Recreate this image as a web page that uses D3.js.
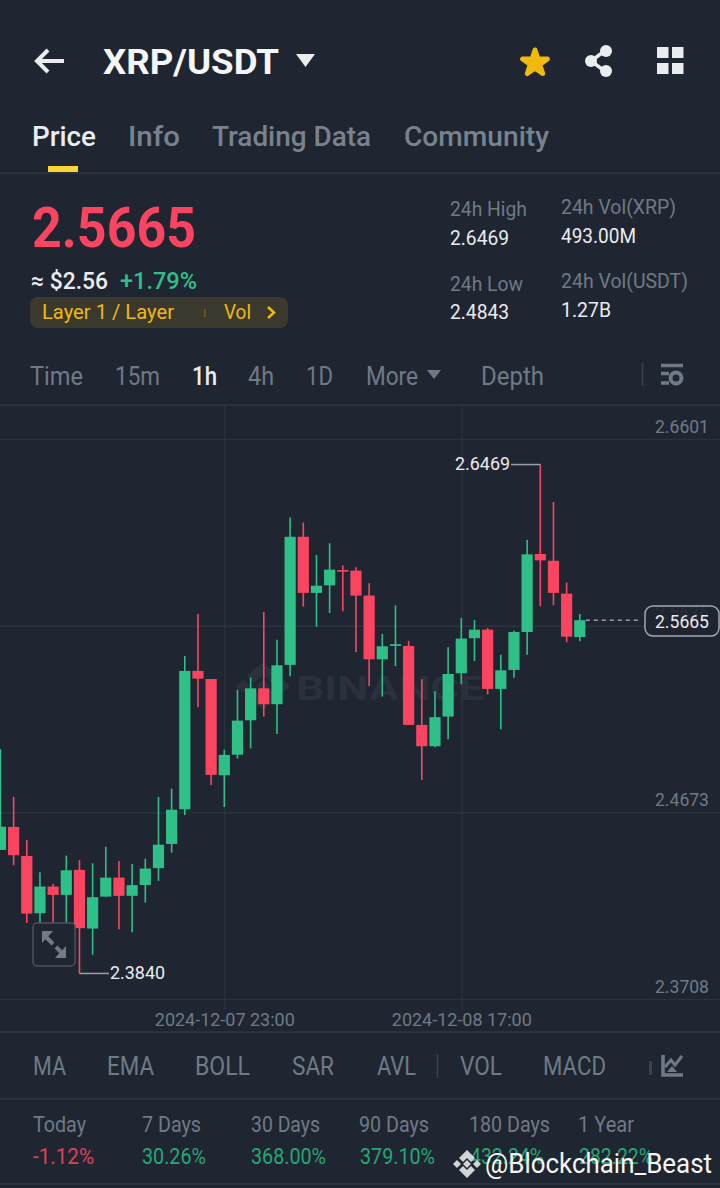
<!DOCTYPE html>
<html>
<head>
<meta charset="utf-8">
<script src="https://cdn.jsdelivr.net/npm/d3@7"></script>
<style>
  html, body { margin: 0; padding: 0; background: #1f2631; }
  svg { display: block; }
  text { font-family: Roboto, "Noto Sans", sans-serif; }
</style>
</head>
<body>
<svg id="chart" width="720" height="1188"></svg>
<script>
// hourly candles (index 0 = 2024-12-07 06:00)
const opens = [2.4478,2.4597,2.4447,2.4151,2.4289,2.4246,2.4375,2.4072,2.4237,2.4335,2.4241,2.4297,2.4384,2.4509,2.4688,2.5403,2.5361,2.4864,2.4970,2.5148,2.5313,2.5231,2.5434,2.6096,2.5806,2.5845,2.5924,2.5921,2.5792,2.5463,2.5532,2.5532,2.5124,2.5014,2.5167,2.5391,2.5572,2.5616,2.5310,2.5408,2.5604,2.6007,2.5972,2.5802,2.5578];
const highs = [2.4998,2.4753,2.4530,2.4363,2.4302,2.4449,2.4425,2.4409,2.4494,2.4421,2.4406,2.4433,2.4752,2.4795,2.5480,2.5697,2.5361,2.4996,2.5306,2.5368,2.5707,2.5564,2.6195,2.6169,2.6002,2.6062,2.5947,2.5938,2.5856,2.5594,2.5742,2.5558,2.5360,2.5298,2.5525,2.5676,2.5666,2.5625,2.5487,2.5611,2.6081,2.6469,2.6276,2.5859,2.5697];
const lows = [2.4478,2.4399,2.4100,2.4075,2.4091,2.4091,2.3840,2.3936,2.4237,2.4068,2.4053,2.4206,2.4318,2.4464,2.4659,2.5215,2.4814,2.4700,2.4950,2.5003,2.5167,2.5077,2.5375,2.5735,2.5631,2.5702,2.5711,2.5499,2.5325,2.5270,2.5428,2.5124,2.4840,2.5009,2.5050,2.5334,2.5454,2.5282,2.5102,2.5368,2.5487,2.5737,2.5742,2.5551,2.5556];
const closes = [2.4598,2.4451,2.4149,2.4289,2.4246,2.4373,2.4074,2.4234,2.4335,2.4241,2.4296,2.4382,2.4505,2.4686,2.5403,2.5363,2.4866,2.4969,2.5146,2.5313,2.5231,2.5432,2.6096,2.5806,2.5843,2.5926,2.5918,2.5792,2.5463,2.5530,2.5541,2.5124,2.5014,2.5164,2.5387,2.5570,2.5616,2.5310,2.5406,2.5604,2.6005,2.5974,2.5806,2.5580,2.5665];

const priceTicks = [2.6601, 2.5636, 2.4673, 2.3708];
const timeTickIndex = [17, 35];
const timeTickLabels = ["2024-12-07 23:00", "2024-12-08 17:00"];
const lastPrice = 2.5665;
const highMark = 2.6469;
const lowMark = 2.3840;

const tabs = ["Price", "Info", "Trading Data", "Community"];
const intervals = ["Time", "15m", "1h", "4h", "1D", "More", "Depth"];
const indicators = ["MA", "EMA", "BOLL", "SAR", "AVL", "VOL", "MACD"];
const periods = ["Today", "7 Days", "30 Days", "90 Days", "180 Days", "1 Year"];
const periodChanges = ["-1.12%", "30.26%", "368.00%", "379.10%", "432.24%", "282.22%"];

const bg = "#1f2631", grid = "#2b323d", up = "#2fc088", down = "#fb4560";
const muted = "#6f7a88", white = "#eaecef", amber = "#f0b90b";

const svg = d3.select("#chart");
svg.append("rect").attr("width", 720).attr("height", 1188).attr("fill", bg);

// text squeezed to the span it has in the screenshot (the shot is stretched vertically)
function label(str, x0, x1, base, size, fill, weight) {
  return svg.append("text")
    .attr("x", x0).attr("y", base)
    .attr("textLength", x1 - x0).attr("lengthAdjust", "spacingAndGlyphs")
    .attr("font-size", size).attr("font-weight", weight || 400)
    .attr("fill", fill).text(str);
}
function hline(x0, x1, y, color, w) {
  svg.append("line").attr("x1", x0).attr("x2", x1).attr("y1", y).attr("y2", y)
    .attr("stroke", color).attr("stroke-width", w || 2);
}

// header
svg.append("path").attr("d", "M64 61H38M48 50L37 61L48 72")
  .attr("fill", "none").attr("stroke", white).attr("stroke-width", 4);
label("XRP/USDT", 103, 279, 74, 35, "#f5f6f7", 700);
svg.append("path").attr("d", "M296 54H315L305.5 67Z").attr("fill", white);
svg.append("path").attr("transform", "translate(535,63)")
  .attr("d", d3.symbol().type(d3.symbolStar).size(190)()).attr("fill", amber)
  .attr("stroke", amber).attr("stroke-width", 5).attr("stroke-linejoin", "round");
svg.append("path").attr("d", "M606 50L591 61L606 72").attr("fill", "none").attr("stroke", white).attr("stroke-width", 3.5);
[[606, 51], [591, 61], [606, 71]].forEach(c => {
  svg.append("circle").attr("cx", c[0]).attr("cy", c[1]).attr("r", 6).attr("fill", white);
});
[[657, 47], [672, 47], [657, 63], [672, 63]].forEach(c => {
  svg.append("rect").attr("x", c[0]).attr("y", c[1]).attr("width", 11.5).attr("height", 11).attr("fill", white);
});

const tabSpan = [[32, 96], [128, 180], [212, 371], [404, 549]];
tabs.forEach((t, i) => label(t, tabSpan[i][0], tabSpan[i][1], 146, 28, i == 0 ? white : "#79828f", 500));
hline(0, 720, 173, grid);
svg.append("rect").attr("x", 48).attr("y", 166).attr("width", 30).attr("height", 6).attr("fill", "#fcd535");

// price block
label("2.5665", 32, 196, 247, 56, down, 700);
label("≈ $2.56", 31, 108, 289, 24, white, 500);
label("+1.79%", 120, 197, 289, 24, up, 500);
svg.append("rect").attr("x", 30).attr("y", 297).attr("width", 258).attr("height", 31).attr("rx", 8).attr("fill", "#3b392e");
label("Layer 1 / Layer", 42, 174, 319, 21, amber);
svg.append("rect").attr("x", 204).attr("y", 309).attr("width", 1.5).attr("height", 8).attr("fill", "#6d5c1e");
label("Vol", 224, 251, 319, 21, amber);
svg.append("path").attr("d", "M268 307L274 312.5L268 318").attr("fill", "none").attr("stroke", amber).attr("stroke-width", 2.5);

label("24h High", 450, 527, 216, 21, muted);
label("2.6469", 450, 509, 245, 20, white);
label("24h Vol(XRP)", 561, 676, 214, 21, muted);
label("493.00M", 561, 636, 243, 20, white);
label("24h Low", 450, 523, 291, 21, muted);
label("2.4843", 450, 509, 319, 20, white);
label("24h Vol(USDT)", 561, 688, 288, 21, muted);
label("1.27B", 561, 611, 317, 20, white);

// interval row
const intervalSpan = [[30, 83], [115, 160], [192, 217], [248, 274], [306, 333], [366, 418], [481, 544]];
intervals.forEach((t, i) => label(t, intervalSpan[i][0], intervalSpan[i][1], 385, 25, i == 2 ? white : muted, i == 2 ? 500 : 400));
svg.append("path").attr("d", "M427 370H441L434 379Z").attr("fill", muted);
svg.append("line").attr("x1", 642.5).attr("x2", 642.5).attr("y1", 363).attr("y2", 386).attr("stroke", "#3a424e").attr("stroke-width", 1.5);
svg.append("path").attr("d", "M661 365.5H683M661 373.5H669M661 383H669").attr("stroke", muted).attr("stroke-width", 3.5);
svg.append("circle").attr("cx", 676).attr("cy", 378).attr("r", 5.5).attr("fill", "none").attr("stroke", muted).attr("stroke-width", 4);

// chart
hline(0, 720, 405, grid);
const x = d3.scaleLinear().domain([17, 35]).range([224.3, 461.3]);
const y = d3.scaleLinear().domain([2.3708, 2.6601]).range([999, 439]);

const yAxis = svg.append("g").attr("transform", "translate(720,0)")
  .call(d3.axisLeft(y).tickValues(priceTicks).tickSize(720).tickFormat(d3.format(".4f")));
yAxis.select(".domain").remove();
yAxis.selectAll("line").attr("stroke", grid).attr("stroke-width", 1.5);
yAxis.selectAll("text")
  .attr("x", -11).attr("dy", -7)
  .attr("font-size", 19).attr("textLength", 54).attr("lengthAdjust", "spacingAndGlyphs")
  .attr("font-family", "Roboto").attr("fill", "#6f7a88");

const xAxis = svg.append("g").attr("transform", "translate(0,1010)")
  .call(d3.axisBottom(x).tickValues(timeTickIndex).tickSize(-605).tickFormat((d, i) => timeTickLabels[i]));
xAxis.select(".domain").remove();
xAxis.selectAll("line").attr("stroke", grid).attr("stroke-width", 1.5);
xAxis.selectAll("text")
  .attr("y", 16).attr("dy", 0)
  .attr("font-size", 19).attr("textLength", 140).attr("lengthAdjust", "spacingAndGlyphs")
  .attr("font-family", "Roboto").attr("fill", muted);

// faint watermark sits behind the candles
const mark = svg.append("g").attr("fill", "#2a313c");
mark.append("path").attr("d", "M263 662L279 676L272 683L263 675L254 683L247 676ZM236 686L243 679L250 686L243 693ZM276 686L283 679L290 686L283 693ZM263 679L270 686L263 693L256 686ZM247 696L254 689L263 697L272 689L279 696L263 710Z");
label("BINANCE", 296, 484, 700, 34, "#2a313c", 700);

const candles = svg.append("g");
const isUp = i => closes[i] >= opens[i];
const candleColor = i => isUp(i) ? up : down;
const idx = d3.range(opens.length);

candles.selectAll(".wick").data(idx).join("line")
  .attr("class", "wick")
  .attr("x1", i => x(i)).attr("x2", i => x(i))
  .attr("y1", i => y(highs[i])).attr("y2", i => y(lows[i]))
  .attr("stroke", candleColor).attr("stroke-width", 1.6);
candles.selectAll(".body").data(idx).join("rect")
  .attr("class", "body")
  .attr("x", i => x(i) - 5.6).attr("width", 11.2)
  .attr("y", i => y(Math.max(opens[i], closes[i])))
  .attr("height", i => Math.max(1.6, Math.abs(y(opens[i]) - y(closes[i]))))
  .attr("fill", candleColor);

// high / low callouts
const hiIdx = d3.range(highs.length).find(i => highs[i] === highMark);
const loIdx = d3.range(lows.length).find(i => lows[i] === lowMark);
hline(511, x(hiIdx), y(highMark), "#9aa0a8", 1.5);
label(d3.format(".4f")(highMark), 455, 510, 470, 19, white);
hline(x(loIdx), 109, y(lowMark), "#9aa0a8", 1.5);
label(d3.format(".4f")(lowMark), 110, 165, 979, 19, white);

// last price marker
svg.append("line").attr("x1", x(opens.length - 1) + 6).attr("x2", 638)
  .attr("y1", y(lastPrice)).attr("y2", y(lastPrice))
  .attr("stroke", "#9aa0a8").attr("stroke-width", 1.5).attr("stroke-dasharray", "4 4");
svg.append("rect").attr("x", 645).attr("y", 606).attr("width", 74).attr("height", 30).attr("rx", 8)
  .attr("fill", bg).attr("fill-opacity", 0.9).attr("stroke", "#a4a9b0").attr("stroke-width", 1.5);
label(d3.format(".4f")(lastPrice), 655, 709, 628, 19, white);

// expand button
svg.append("rect").attr("x", 33).attr("y", 923).attr("width", 42).attr("height", 43).attr("rx", 4)
  .attr("fill", bg).attr("stroke", "#4b525d").attr("stroke-width", 1.5);
svg.append("path").attr("d", "M44 935L53 944M56 947L63 954").attr("stroke", "#747b86").attr("stroke-width", 4);
svg.append("path").attr("d", "M42 931H53L42 943ZM66 958H55L66 946Z").attr("fill", "#747b86");

hline(0, 720, 1032, grid);

// indicator row
const indicatorSpan = [[33, 66], [107, 154], [195, 250], [292, 334], [377, 416], [460, 502], [543, 606]];
indicators.forEach((t, i) => label(t, indicatorSpan[i][0], indicatorSpan[i][1], 1075, 25, muted));
svg.append("line").attr("x1", 437.5).attr("x2", 437.5).attr("y1", 1054).attr("y2", 1078).attr("stroke", "#3a424e").attr("stroke-width", 1.5);
svg.append("rect").attr("x", 649).attr("y", 1061).attr("width", 3).attr("height", 14).attr("fill", "#3a424e");
svg.append("path").attr("d", "M663 1055V1075H683").attr("fill", "none").attr("stroke", muted).attr("stroke-width", 3.5);
svg.append("path").attr("d", "M665 1067L671 1060L675 1065L682 1056").attr("fill", "none").attr("stroke", muted).attr("stroke-width", 3);
svg.append("path").attr("d", "M667 1072L672 1066L677 1072Z").attr("fill", muted);
hline(0, 720, 1099, grid);

// period performance
const periodSpan = [[33, 86], [142, 201], [251, 320], [359, 429], [469, 550], [578, 634]];
const changeSpan = [[33, 94], [142, 206], [251, 326], [360, 435], [470, 544], [579, 653]];
periods.forEach((t, i) => label(t, periodSpan[i][0], periodSpan[i][1], 1132, 22, muted));
periodChanges.forEach((t, i) => label(t, changeSpan[i][0], changeSpan[i][1], 1164, 22, t[0] == "-" ? "#e0405a" : "#25a877"));
hline(0, 720, 1184, grid);

// repost watermark
const wm = svg.append("g").attr("fill", "#d2d3d5");
wm.append("path").attr("d", "M467 1150L475 1158L471 1162L467 1158L463 1162L459 1158ZM453 1164L457 1160L461 1164L457 1168ZM473 1164L477 1160L481 1164L477 1168ZM467 1160L471 1164L467 1168L463 1164ZM459 1170L463 1166L467 1170L471 1166L475 1170L467 1178Z");
label("@Blockchain_Beast", 485, 712, 1173, 28, "#f6f6f6");
</script>
</body>
</html>
